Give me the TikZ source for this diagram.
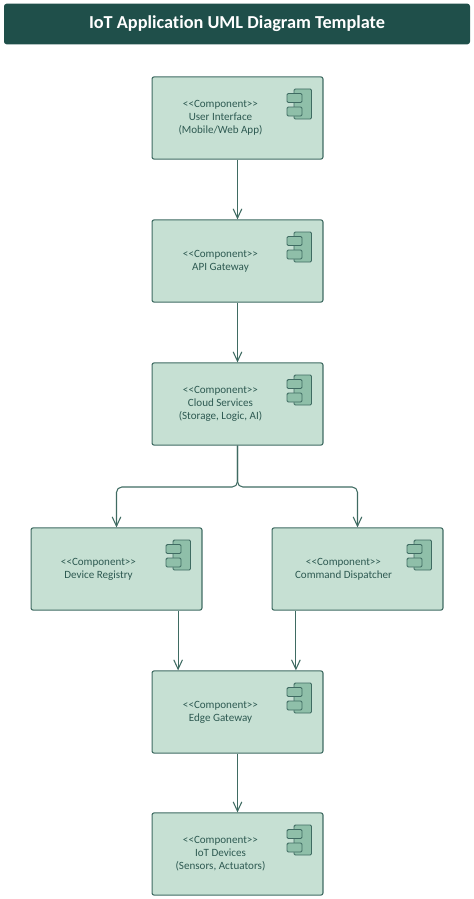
\documentclass[tikz,border=0pt]{standalone}
\usepackage{fontspec}
\setmainfont[Ligatures=CommonOff]{Carlito}
\usetikzlibrary{arrows.meta}

\definecolor{titlegreen}{HTML}{1F4F4A}
\definecolor{boxgreen}{HTML}{C6E0D3}
\definecolor{icongreen}{HTML}{8FBFA9}
\definecolor{linegreen}{HTML}{3F6B62}
\definecolor{textgreen}{HTML}{2E5A52}

\tikzset{
    compbox/.style={draw=linegreen, fill=boxgreen, line width=0.8pt, rounded corners=1.5pt,
        minimum width=128.2pt, minimum height=61.6pt},
    complabel/.style={text=textgreen, font=\fontsize{8.3}{9.7}\selectfont, align=center},
    iconpart/.style={draw=linegreen, fill=icongreen, line width=0.7pt, rounded corners=1pt},
    flow/.style={draw=linegreen, line width=0.8pt, -{Straight Barb[length=7pt,width=6.5pt]}},
}

\begin{document}
\begin{tikzpicture}[x=0.75pt, y=-0.75pt]

    % Fix the page to the size of the reference
    \useasboundingbox (0,0) rectangle (474,899);

    % Title bar
    \node[fill=titlegreen, rounded corners=2pt, minimum width=349.5pt, minimum height=30.5pt,
        text=white, font=\fontsize{13.7}{16}\bfseries] (title) at (237,24) {IoT Application UML Diagram Template};

    % Draw the components with their labels and icons
    \foreach \name/\x/\y/\dx/\txt in {
        ui/237.5/118/-17/{User Interface\\(Mobile/Web App)},
        api/237.5/261/-17/{API Gateway},
        cloud/237.5/404/-17/{Cloud Services\\(Storage, Logic, AI)},
        registry/116.5/569/-18/{Device Registry},
        dispatcher/357.5/569/-14/{Command Dispatcher},
        edge/237.5/712/-17/{Edge Gateway},
        devices/237.5/854/-17/{IoT Devices\\(Sensors, Actuators)}} {
        \node[compbox] (\name) at (\x,\y) {};
        \node[complabel] (\name-text) at (\x+\dx,\y) {{<}{<}Component{>}{>}\\\txt};
        % Component icon, measured from the top right corner
        \draw[iconpart] (\x+56.5,\y-29) rectangle (\x+74,\y+1);
        \draw[iconpart] (\x+49.5,\y-24.5) rectangle (\x+64.5,\y-15.5);
        \draw[iconpart] (\x+49.5,\y-11) rectangle (\x+64.5,\y-2);
    }

    % Straight connectors
    \draw[flow] (ui) -- (api);
    \draw[flow] (api) -- (cloud);
    \draw[flow] (edge) -- (devices);

    % The split below the cloud services
    \coordinate (split) at (237.5,487);
    \draw[flow, rounded corners=4pt] (cloud.south) -- (split) -| (registry.north);
    \draw[flow, rounded corners=4pt] (cloud.south) -- (split) -| (dispatcher.north);

    % Both branches join at the edge gateway
    \draw[flow] ([xshift=46.2pt]registry.south) -- ([xshift=46.2pt]registry.south |- edge.north);
    \draw[flow] ([xshift=-46.2pt]dispatcher.south) -- ([xshift=-46.2pt]dispatcher.south |- edge.north);

\end{tikzpicture}
\end{document}
